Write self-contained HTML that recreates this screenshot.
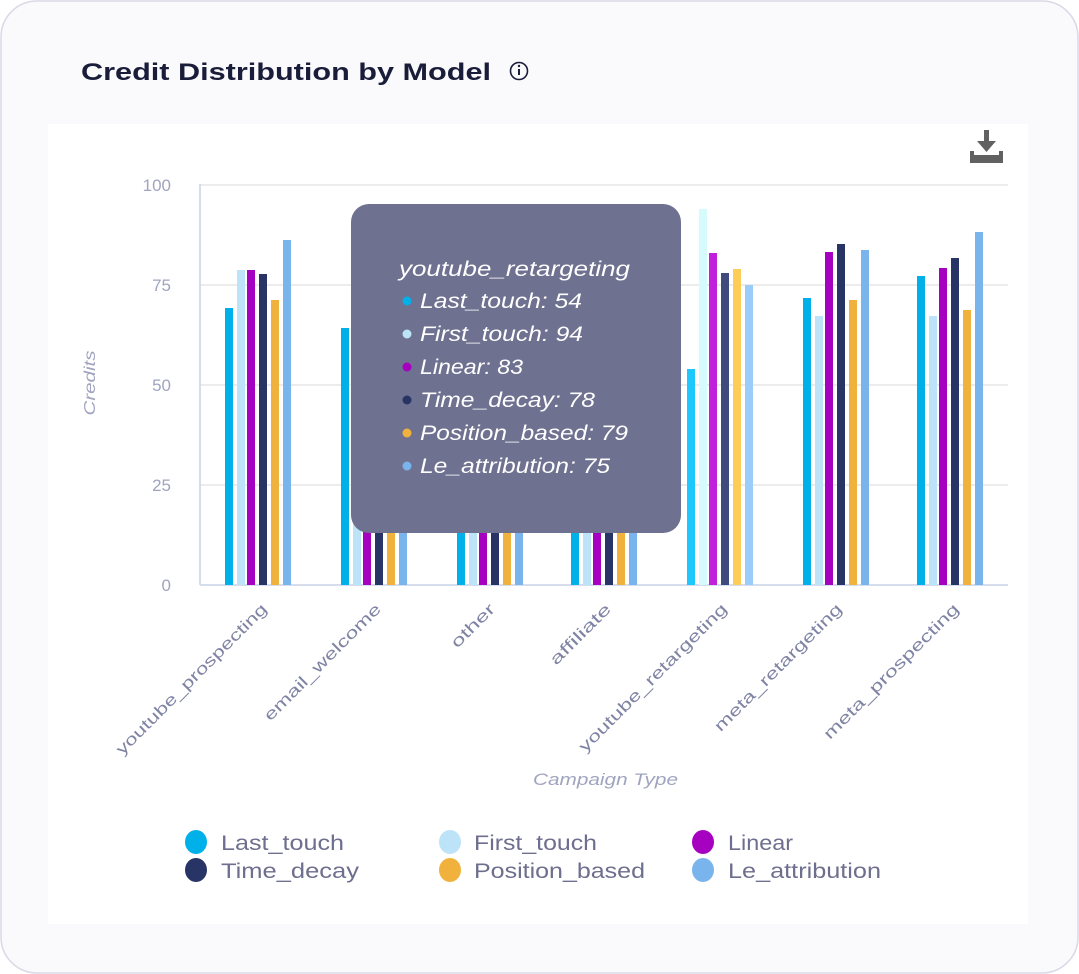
<!DOCTYPE html>
<html><head><meta charset="utf-8"><style>
html,body{margin:0;padding:0;background:#fff;}
body{width:1079px;height:974px;position:relative;overflow:hidden;font-family:"Liberation Sans",sans-serif;}
</style></head><body>
<svg width="1079" height="974" xmlns="http://www.w3.org/2000/svg" style="position:absolute;left:0;top:0">
<rect x="1" y="1" width="1077" height="972" rx="36" fill="#fafafc" stroke="#d9d9e8" stroke-width="1.5"/>
<rect x="48" y="124" width="980" height="800" fill="#ffffff"/>
<text x="81" y="80" font-size="24" font-weight="bold" fill="#1a1d3a" textLength="410" lengthAdjust="spacingAndGlyphs">Credit Distribution by Model</text>
<circle cx="519" cy="71" r="8.5" fill="none" stroke="#1a1d3a" stroke-width="1.6"/>
<rect x="518" y="69" width="2" height="6" fill="#1a1d3a"/><circle cx="519" cy="66" r="1.2" fill="#1a1d3a"/>
<g fill="#616161"><rect x="984" y="130" width="5" height="14"/><polygon points="977,141 996,141 986.5,152"/><rect x="970" y="155" width="33" height="8"/><rect x="970" y="151" width="4" height="6"/><rect x="999" y="151" width="4" height="6"/></g>
<g stroke="#e6e6e6" stroke-width="1.5"><line x1="200" y1="185" x2="1008" y2="185"/><line x1="200" y1="285" x2="1008" y2="285"/><line x1="200" y1="385" x2="1008" y2="385"/><line x1="200" y1="485" x2="1008" y2="485"/></g>
<line x1="200" y1="184" x2="200" y2="585" stroke="#c8d4e8" stroke-width="1.5"/>
<line x1="200" y1="585" x2="1008" y2="585" stroke="#c8d4e8" stroke-width="1.5"/>
<g font-size="17" fill="#a0a4bf" text-anchor="end"><text x="171" y="191">100</text><text x="171" y="291">75</text><text x="171" y="391">50</text><text x="171" y="491">25</text><text x="171" y="591">0</text></g>
<text transform="translate(95,383) rotate(-90)" font-size="16" font-style="italic" fill="#a0a4bf" text-anchor="middle" textLength="65" lengthAdjust="spacingAndGlyphs">Credits</text>
<g id="bars"></g>
<g font-size="16" fill="#8084a4" text-anchor="end" lengthAdjust="spacingAndGlyphs">
<text transform="translate(268,610) rotate(-45)" textLength="206" lengthAdjust="spacingAndGlyphs">youtube_prospecting</text>
<text transform="translate(382,610) rotate(-45)" textLength="158" lengthAdjust="spacingAndGlyphs">email_welcome</text>
<text transform="translate(496,610) rotate(-45)" textLength="55" lengthAdjust="spacingAndGlyphs">other</text>
<text transform="translate(612,610) rotate(-45)" textLength="79" lengthAdjust="spacingAndGlyphs">affiliate</text>
<text transform="translate(728,610) rotate(-45)" textLength="202" lengthAdjust="spacingAndGlyphs">youtube_retargeting</text>
<text transform="translate(843,610) rotate(-45)" textLength="173" lengthAdjust="spacingAndGlyphs">meta_retargeting</text>
<text transform="translate(960,610) rotate(-45)" textLength="184" lengthAdjust="spacingAndGlyphs">meta_prospecting</text>
</g>
<text x="533" y="785" font-size="17" font-style="italic" fill="#a0a4bf" textLength="145" lengthAdjust="spacingAndGlyphs">Campaign Type</text>
<g font-size="21" fill="#6e6e8e">
<ellipse cx="196" cy="842" rx="11" ry="12" fill="#00b0e8"/><text x="221" y="850" textLength="123" lengthAdjust="spacingAndGlyphs">Last_touch</text>
<ellipse cx="450" cy="842" rx="11" ry="12" fill="#bde3f9"/><text x="474" y="850" textLength="123" lengthAdjust="spacingAndGlyphs">First_touch</text>
<ellipse cx="703" cy="842" rx="11" ry="12" fill="#a600c0"/><text x="728" y="850" textLength="65" lengthAdjust="spacingAndGlyphs">Linear</text>
<ellipse cx="196" cy="870" rx="11" ry="12" fill="#283366"/><text x="221" y="878" textLength="138" lengthAdjust="spacingAndGlyphs">Time_decay</text>
<ellipse cx="450" cy="870" rx="11" ry="12" fill="#f0b23c"/><text x="474" y="878" textLength="171" lengthAdjust="spacingAndGlyphs">Position_based</text>
<ellipse cx="703" cy="870" rx="11" ry="12" fill="#7ab4ec"/><text x="728" y="878" textLength="153" lengthAdjust="spacingAndGlyphs">Le_attribution</text>
</g>
<rect x="351" y="204" width="330" height="329" rx="18" fill="#6e7190"/>
<g font-size="21" font-style="italic" fill="#ffffff">
<text x="399" y="276" textLength="231" lengthAdjust="spacingAndGlyphs">youtube_retargeting</text>
<circle cx="407" cy="301" r="4.5" fill="#00b0e8"/><text x="420" y="308" textLength="162" lengthAdjust="spacingAndGlyphs">Last_touch: 54</text>
<circle cx="407" cy="334" r="4.5" fill="#bde3f9"/><text x="420" y="341" textLength="163" lengthAdjust="spacingAndGlyphs">First_touch: 94</text>
<circle cx="407" cy="367" r="4.5" fill="#a600c0"/><text x="420" y="374" textLength="103" lengthAdjust="spacingAndGlyphs">Linear: 83</text>
<circle cx="407" cy="400" r="4.5" fill="#283366"/><text x="420" y="407" textLength="175" lengthAdjust="spacingAndGlyphs">Time_decay: 78</text>
<circle cx="407" cy="433" r="4.5" fill="#f0b23c"/><text x="420" y="440" textLength="208" lengthAdjust="spacingAndGlyphs">Position_based: 79</text>
<circle cx="407" cy="466" r="4.5" fill="#7ab4ec"/><text x="420" y="473" textLength="190" lengthAdjust="spacingAndGlyphs">Le_attribution: 75</text>
</g>
</svg>
<script>
var starts=[225,341,457,571,687,803,917],offs=[0,12,22,34,46,58];
var cols=["#00b0e8","#bde3f9","#a600c0","#283366","#f0b23c","#7ab4ec"];
var hov=["#1ec8fc","#d5fbfd","#c01fdc","#3f4b7d","#fdcd58","#9bcdfb"];
var data=[[69.25,78.75,78.75,77.75,71.25,86.25],[64.25,70,72,75,68,80],[70,72,75,74,70,78],[68,74,73,76,71,79],[54,94,83,78,79,75],[71.75,67.25,83.25,85.25,71.25,83.75],[77.25,67.25,79.25,81.75,68.75,88.25]];
var g=document.getElementById("bars"),ns="http://www.w3.org/2000/svg";
for(var i=0;i<7;i++)for(var j=0;j<6;j++){var r=document.createElementNS(ns,"rect");var h=data[i][j]*4;
r.setAttribute("x",starts[i]+offs[j]);r.setAttribute("y",585-h);r.setAttribute("width",8);r.setAttribute("height",h);
r.setAttribute("fill",i==4?hov[j]:cols[j]);g.appendChild(r);}
</script>
</body></html>
